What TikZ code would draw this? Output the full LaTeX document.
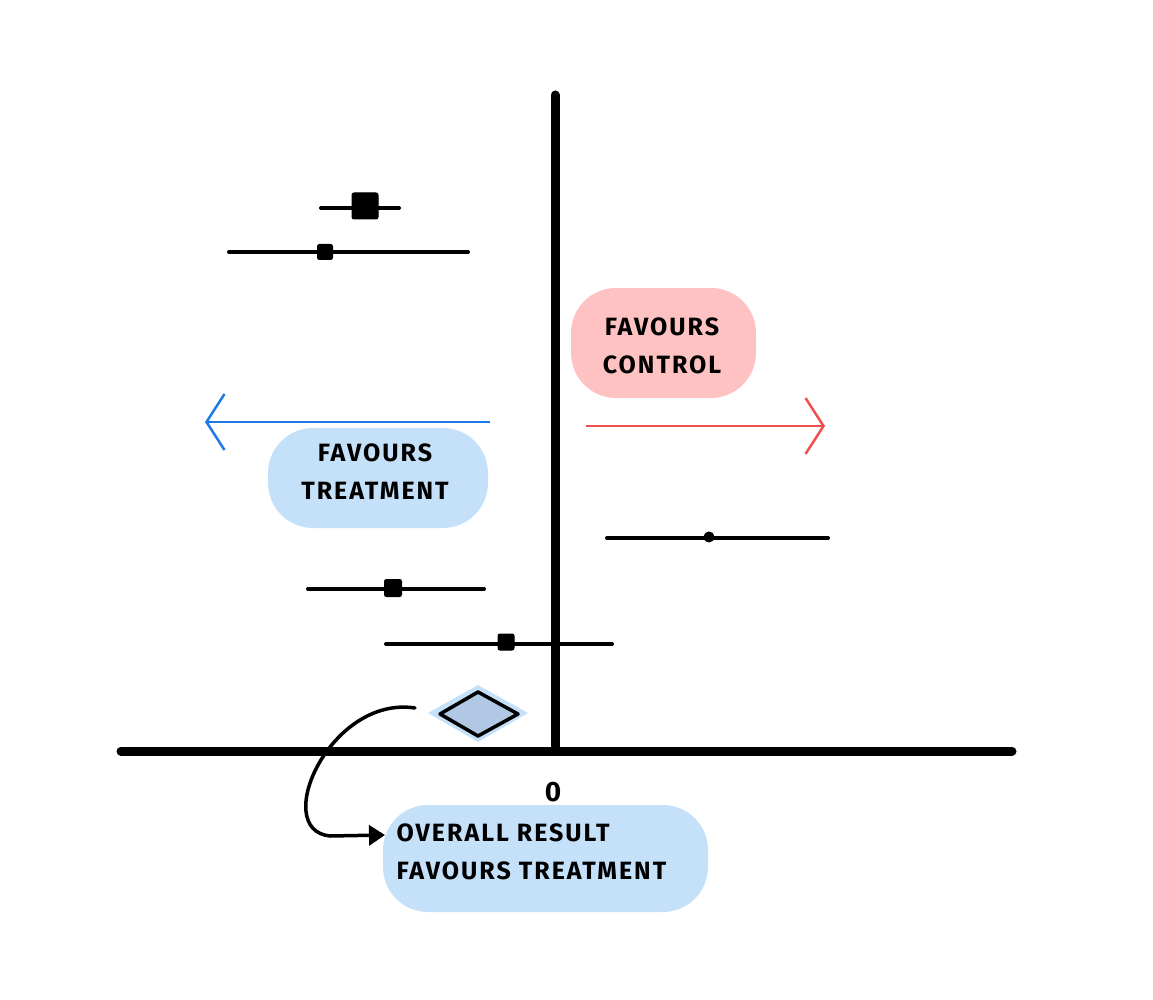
\documentclass[tikz,border=0pt]{standalone}
\usepackage{fontspec}
\setmainfont[LetterSpace=8]{Fira Sans}
\usetikzlibrary{arrows.meta}
\definecolor{lblue}{HTML}{C5E1FA}
\definecolor{lpink}{HTML}{FFC2C2}
\definecolor{dblue}{HTML}{1E7AE6}
\definecolor{dred}{HTML}{F05050}
\definecolor{dfill}{HTML}{B0C8E4}
\tikzset{
 axis/.style={line width=9pt,line cap=round},
 ci/.style={line width=4pt,line cap=round},
 est/.style={fill=black,draw=black,line width=1pt,rounded corners=2pt,inner sep=0pt},
 lab/.style={font=\bfseries\fontsize{25}{38}\selectfont,align=center},
 harrow/.style={line width=2.5pt,-{Straight Barb[length=18pt,width=56pt,line width=2.5pt]}}
}
\begin{document}
\begin{tikzpicture}[x=1pt,y=-1pt]
\useasboundingbox (0,0) rectangle (1153,1000);
% blobs
\fill[lpink,rounded corners=45pt] (571,288) rectangle (756,398);
\fill[lblue,rounded corners=45pt] (268,428) rectangle (488,528);
\fill[lblue,rounded corners=45pt] (383,805) rectangle (708,912);
\node[lab] (fc) at (662,346) {FAVOURS\\CONTROL};
\node[lab] (ft) at (375,472) {FAVOURS\\TREATMENT};
\node[lab,align=left,anchor=west] (ov) at (393,852) {OVERALL RESULT\\FAVOURS TREATMENT};
% axes
\coordinate (vt) at (555,95); \coordinate (vb) at (555,748);
\coordinate (hl) at (121,751); \coordinate (hr) at (1012,751);
\draw[axis] (vt) -- (vb);
\draw[axis] (hl) -- (hr);
\node[font=\bfseries\fontsize{28}{30}\selectfont] (zero) at (553,792) {0};
% studies
\coordinate (a1) at (321,208); \coordinate (a2) at (399,208);
\draw[ci] (a1) -- (a2); \node[est,minimum size=26pt] (s1) at (365,206) {};
\coordinate (b1) at (229,252); \coordinate (b2) at (468,252);
\draw[ci] (b1) -- (b2); \node[est,minimum size=15pt] (s2) at (325,252) {};
\coordinate (c1) at (607,538); \coordinate (c2) at (828,538);
\draw[ci] (c1) -- (c2); \node[est,minimum size=10pt,circle] (s3) at (709,537) {};
\coordinate (d1) at (308,589); \coordinate (d2) at (484,589);
\draw[ci] (d1) -- (d2); \node[est,minimum size=17pt] (s4) at (393,588) {};
\coordinate (e1) at (386,644); \coordinate (e2) at (612,644);
\draw[ci] (e1) -- (e2); \node[est,minimum size=16pt] (s5) at (506,642) {};
% diamond
\fill[lblue] (478,685) -- (528,713) -- (478,742) -- (428,713) -- cycle;
\draw[line width=3.5pt,fill=dfill,line join=round] (478,692) -- (518,714) -- (478,736) -- (440,714) -- cycle;
% arrows
\coordinate (bl0) at (490,422); \coordinate (bl1) at (205,422);
\draw[harrow,dblue] (bl0) -- (bl1);
\coordinate (rd0) at (586,426); \coordinate (rd1) at (825,426);
\draw[harrow,dred] (rd0) -- (rd1);
% curved arrow
\coordinate (cs) at (415,708);
\coordinate (ce) at (385,835);
\draw[line width=3.5pt,line cap=round,-{Triangle[length=16pt,width=20pt]}] (cs) .. controls (330,695) and (270,830) .. (330,836) -- (ce);
\end{tikzpicture}
\end{document}
